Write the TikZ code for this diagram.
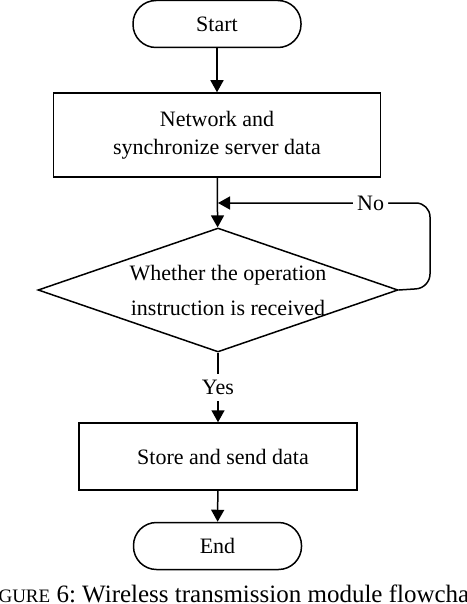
\documentclass[tikz,border=0pt]{standalone}
\usepackage{fontspec}
\setmainfont{Liberation Serif}
\usetikzlibrary{arrows.meta,shapes.geometric}
\begin{document}
\begin{tikzpicture}[x=1pt,y=-1pt,
  base/.style={draw=black,line width=1.5pt,font=\fontsize{22}{28}\selectfont,align=center},
  term/.style={base,rounded corners=23pt,minimum width=168pt,minimum height=47pt,inner sep=0pt},
  procbox/.style={base,rectangle,inner sep=0pt},
  decision/.style={base,diamond,aspect=2.9,inner sep=0pt,minimum width=360pt,minimum height=124pt},
  flow/.style={line width=1.5pt,-{Triangle[width=13pt,length=12pt]}},
  lbl/.style={fill=white,font=\fontsize{22}{26}\selectfont,inner sep=4pt}]
\useasboundingbox (0,0) rectangle (466,604);
\clip (0,0) rectangle (466,604);
\node[term] (start) at (217,24) {Start};
\node[procbox,minimum width=327pt,minimum height=84pt,
      font=\fontsize{22}{28}\selectfont] (net) at (217,135) {Network and\\synchronize server data};
\node[decision,label={[xshift=10pt,align=center,font=\fontsize{22}{35}\selectfont]center:Whether the operation\\instruction is received}] (dec) at (218,290) {};
\node[procbox,minimum width=278pt,minimum height=67pt] (store) at (218,456.5) {\hspace{10pt}Store and send data};
\node[term] (end) at (217.5,546) {End};
\coordinate (m) at (dec.north |- 0,203);
\draw[flow] (start) -- (net);
\draw[flow] (net) -- (dec);
\draw[flow,rounded corners=14pt] (dec.east) -- (430,288) -- (430,203) -- node[lbl,pos=0.28]{No} (m);
\draw[flow] (dec) -- node[lbl,pos=0.5,inner sep=6pt]{Yes} (store);
\draw[flow] (store) -- (end);
\node[anchor=base west,inner sep=0pt,font=\fontsize{25}{30}\selectfont] (cap) at (82,602)
  {\llap{F{\fontsize{19}{20}\selectfont IGURE} 6:\ }Wireless transmission module flowchart.};
\end{tikzpicture}
\end{document}
